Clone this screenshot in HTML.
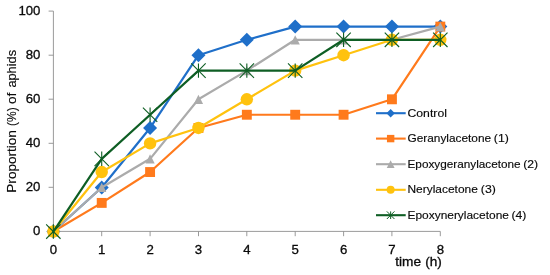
<!DOCTYPE html>
<html><head><meta charset="utf-8"><title>Proportion of aphids</title>
<style>html,body{margin:0;padding:0;background:#fff}svg{display:block}text{font-family:"Liberation Sans",sans-serif;fill:#0a0a0a;stroke:#0a0a0a}</style></head><body>
<svg width="550" height="275" viewBox="0 0 550 275">
<rect width="550" height="275" fill="#fff"/>
<g stroke="#8e8e8e" stroke-width="0.9" fill="none">
<path d="M53.4 11.1V231.4H440.3"/>
<path d="M48.6 231.4H53.4"/>
<path d="M48.6 187.3H53.4"/>
<path d="M48.6 143.3H53.4"/>
<path d="M48.6 99.2H53.4"/>
<path d="M48.6 55.2H53.4"/>
<path d="M48.6 11.1H53.4"/>
<path d="M53.4 231.4V236.2"/>
<path d="M101.7 231.4V236.2"/>
<path d="M150.1 231.4V236.2"/>
<path d="M198.5 231.4V236.2"/>
<path d="M246.8 231.4V236.2"/>
<path d="M295.2 231.4V236.2"/>
<path d="M343.6 231.4V236.2"/>
<path d="M391.9 231.4V236.2"/>
<path d="M440.3 231.4V236.2"/>
</g>
<g stroke-width="0.3" font-size="13.2" text-anchor="end">
<text x="40.4" y="235.4">0</text>
<text x="40.4" y="191.3">20</text>
<text x="40.4" y="147.3">40</text>
<text x="40.4" y="103.2">60</text>
<text x="40.4" y="59.2">80</text>
<text x="40.4" y="15.1">100</text>
</g>
<g stroke-width="0.3" font-size="13.2" text-anchor="middle">
<text x="53.4" y="254.3">0</text>
<text x="101.7" y="254.3">1</text>
<text x="150.1" y="254.3">2</text>
<text x="198.5" y="254.3">3</text>
<text x="246.8" y="254.3">4</text>
<text x="295.2" y="254.3">5</text>
<text x="343.6" y="254.3">6</text>
<text x="391.9" y="254.3">7</text>
<text x="440.3" y="254.3">8</text>
</g>
<g stroke-width="0.12" font-size="12.2" transform="translate(15.9 192) rotate(-90)">
<text x="-0.7" y="0" textLength="62.6" lengthAdjust="spacingAndGlyphs">Proportion</text>
<text x="66.1" y="0" textLength="18.7" lengthAdjust="spacingAndGlyphs">(%)</text>
<text x="87.9" y="0" textLength="11.4" lengthAdjust="spacingAndGlyphs">of</text>
<text x="104.4" y="0" textLength="37.7" lengthAdjust="spacingAndGlyphs">aphids</text>
</g>
<g stroke-width="0.3" font-size="12.2">
<text x="395.3" y="266.1" textLength="25.8" lengthAdjust="spacingAndGlyphs">time</text>
<text x="425.2" y="266.1" textLength="16.6" lengthAdjust="spacingAndGlyphs">(h)</text>
</g>
<polyline points="53.35,231.55 101.72,187.47 150.09,127.96 198.46,55.23 246.83,39.80 295.20,26.58 343.57,26.58 391.94,26.58 440.31,26.58" fill="none" stroke="#1F6FC9" stroke-width="2.2" stroke-linejoin="round" stroke-linecap="round"/>
<path d="M53.35 224.55L60.35 231.55L53.35 238.55L46.35 231.55Z" fill="#1F6FC9"/>
<path d="M101.72 180.47L108.72 187.47L101.72 194.47L94.72 187.47Z" fill="#1F6FC9"/>
<path d="M150.09 120.96L157.09 127.96L150.09 134.96L143.09 127.96Z" fill="#1F6FC9"/>
<path d="M198.46 48.23L205.46 55.23L198.46 62.23L191.46 55.23Z" fill="#1F6FC9"/>
<path d="M246.83 32.80L253.83 39.80L246.83 46.80L239.83 39.80Z" fill="#1F6FC9"/>
<path d="M295.20 19.58L302.20 26.58L295.20 33.58L288.20 26.58Z" fill="#1F6FC9"/>
<path d="M343.57 19.58L350.57 26.58L343.57 33.58L336.57 26.58Z" fill="#1F6FC9"/>
<path d="M391.94 19.58L398.94 26.58L391.94 33.58L384.94 26.58Z" fill="#1F6FC9"/>
<path d="M440.31 19.58L447.31 26.58L440.31 33.58L433.31 26.58Z" fill="#1F6FC9"/>
<polyline points="53.35,231.55 101.72,202.90 150.09,172.04 198.46,127.96 246.83,114.74 295.20,114.74 343.57,114.74 391.94,99.31 440.31,26.58" fill="none" stroke="#FF7A1C" stroke-width="2.2" stroke-linejoin="round" stroke-linecap="round"/>
<rect x="48.40" y="226.60" width="9.90" height="9.90" fill="#FF7A1C"/>
<rect x="96.77" y="197.95" width="9.90" height="9.90" fill="#FF7A1C"/>
<rect x="145.14" y="167.09" width="9.90" height="9.90" fill="#FF7A1C"/>
<rect x="193.51" y="123.01" width="9.90" height="9.90" fill="#FF7A1C"/>
<rect x="241.88" y="109.79" width="9.90" height="9.90" fill="#FF7A1C"/>
<rect x="290.25" y="109.79" width="9.90" height="9.90" fill="#FF7A1C"/>
<rect x="338.62" y="109.79" width="9.90" height="9.90" fill="#FF7A1C"/>
<rect x="386.99" y="94.36" width="9.90" height="9.90" fill="#FF7A1C"/>
<rect x="435.36" y="21.63" width="9.90" height="9.90" fill="#FF7A1C"/>
<polyline points="53.35,231.55 101.72,187.47 150.09,158.82 198.46,99.31 246.83,70.66 295.20,39.80 343.57,39.80 391.94,39.80 440.31,26.58" fill="none" stroke="#ABABAB" stroke-width="2.2" stroke-linejoin="round" stroke-linecap="round"/>
<path d="M53.35 226.95L57.95 236.15L48.75 236.15Z" fill="#ABABAB"/>
<path d="M101.72 182.87L106.32 192.07L97.12 192.07Z" fill="#ABABAB"/>
<path d="M150.09 154.22L154.69 163.42L145.49 163.42Z" fill="#ABABAB"/>
<path d="M198.46 94.71L203.06 103.91L193.86 103.91Z" fill="#ABABAB"/>
<path d="M246.83 66.06L251.43 75.26L242.23 75.26Z" fill="#ABABAB"/>
<path d="M295.20 35.20L299.80 44.40L290.60 44.40Z" fill="#ABABAB"/>
<path d="M343.57 35.20L348.17 44.40L338.97 44.40Z" fill="#ABABAB"/>
<path d="M391.94 35.20L396.54 44.40L387.34 44.40Z" fill="#ABABAB"/>
<path d="M440.31 21.98L444.91 31.18L435.71 31.18Z" fill="#ABABAB"/>
<polyline points="53.35,231.55 101.72,172.04 150.09,143.39 198.46,127.96 246.83,99.31 295.20,70.66 343.57,55.23 391.94,39.80 440.31,39.80" fill="none" stroke="#FFC20E" stroke-width="2.2" stroke-linejoin="round" stroke-linecap="round"/>
<circle cx="53.35" cy="231.55" r="6.20" fill="#FFC20E"/>
<circle cx="101.72" cy="172.04" r="6.20" fill="#FFC20E"/>
<circle cx="150.09" cy="143.39" r="6.20" fill="#FFC20E"/>
<circle cx="198.46" cy="127.96" r="6.20" fill="#FFC20E"/>
<circle cx="246.83" cy="99.31" r="6.20" fill="#FFC20E"/>
<circle cx="295.20" cy="70.66" r="6.20" fill="#FFC20E"/>
<circle cx="343.57" cy="55.23" r="6.20" fill="#FFC20E"/>
<circle cx="391.94" cy="39.80" r="6.20" fill="#FFC20E"/>
<circle cx="440.31" cy="39.80" r="6.20" fill="#FFC20E"/>
<polyline points="53.35,231.55 101.72,158.82 150.09,114.74 198.46,70.66 246.83,70.66 295.20,70.66 343.57,39.80 391.94,39.80 440.31,39.80" fill="none" stroke="#0E5E24" stroke-width="2.2" stroke-linejoin="round" stroke-linecap="round"/>
<path d="M46.15 224.35L60.55 238.75M46.15 238.75L60.55 224.35M53.35 224.35L53.35 238.75" stroke="#0E5E24" stroke-width="1.10" fill="none"/>
<path d="M94.52 151.62L108.92 166.02M94.52 166.02L108.92 151.62M101.72 151.62L101.72 166.02" stroke="#0E5E24" stroke-width="1.10" fill="none"/>
<path d="M142.89 107.54L157.29 121.94M142.89 121.94L157.29 107.54M150.09 107.54L150.09 121.94" stroke="#0E5E24" stroke-width="1.10" fill="none"/>
<path d="M191.26 63.46L205.66 77.86M191.26 77.86L205.66 63.46M198.46 63.46L198.46 77.86" stroke="#0E5E24" stroke-width="1.10" fill="none"/>
<path d="M239.63 63.46L254.03 77.86M239.63 77.86L254.03 63.46M246.83 63.46L246.83 77.86" stroke="#0E5E24" stroke-width="1.10" fill="none"/>
<path d="M288.00 63.46L302.40 77.86M288.00 77.86L302.40 63.46M295.20 63.46L295.20 77.86" stroke="#0E5E24" stroke-width="1.10" fill="none"/>
<path d="M336.37 32.60L350.77 47.00M336.37 47.00L350.77 32.60M343.57 32.60L343.57 47.00" stroke="#0E5E24" stroke-width="1.10" fill="none"/>
<path d="M384.74 32.60L399.14 47.00M384.74 47.00L399.14 32.60M391.94 32.60L391.94 47.00" stroke="#0E5E24" stroke-width="1.10" fill="none"/>
<path d="M433.11 32.60L447.51 47.00M433.11 47.00L447.51 32.60M440.31 32.60L440.31 47.00" stroke="#0E5E24" stroke-width="1.10" fill="none"/>
<g stroke-width="0.15" font-size="11.6">
<path d="M376 113.2H405.7" stroke="#1F6FC9" stroke-width="2.1"/>
<path d="M390.65 109.00L394.85 113.20L390.65 117.40L386.45 113.20Z" fill="#1F6FC9"/>
<text x="407.5" y="116.8" textLength="39.4" lengthAdjust="spacingAndGlyphs">Control</text>
<path d="M376 138.6H405.7" stroke="#FF7A1C" stroke-width="2.1"/>
<rect x="386.95" y="134.90" width="7.40" height="7.40" fill="#FF7A1C"/>
<text x="407.5" y="142.2" textLength="83.6" lengthAdjust="spacingAndGlyphs">Geranylacetone</text>
<text x="493.8" y="142.2" textLength="15.0" lengthAdjust="spacingAndGlyphs">(1)</text>
<path d="M376 164.2H405.7" stroke="#ABABAB" stroke-width="2.1"/>
<path d="M390.65 160.30L394.55 168.10L386.75 168.10Z" fill="#ABABAB"/>
<text x="407.5" y="167.8" textLength="113.1" lengthAdjust="spacingAndGlyphs">Epoxygeranylacetone</text>
<text x="523.2" y="167.8" textLength="14.9" lengthAdjust="spacingAndGlyphs">(2)</text>
<path d="M376 189.8H405.7" stroke="#FFC20E" stroke-width="2.1"/>
<circle cx="390.65" cy="189.80" r="4.00" fill="#FFC20E"/>
<text x="407.5" y="193.4" textLength="70.3" lengthAdjust="spacingAndGlyphs">Nerylacetone</text>
<text x="480.8" y="193.4" textLength="15.0" lengthAdjust="spacingAndGlyphs">(3)</text>
<path d="M376 215.2H405.7" stroke="#0E5E24" stroke-width="2.1"/>
<path d="M386.85 211.40L394.45 219.00M386.85 219.00L394.45 211.40M390.65 211.40L390.65 219.00" stroke="#0E5E24" stroke-width="1.00" fill="none"/>
<text x="407.5" y="218.8" textLength="101.4" lengthAdjust="spacingAndGlyphs">Epoxynerylacetone</text>
<text x="511.4" y="218.8" textLength="14.9" lengthAdjust="spacingAndGlyphs">(4)</text>
</g>
</svg></body></html>
